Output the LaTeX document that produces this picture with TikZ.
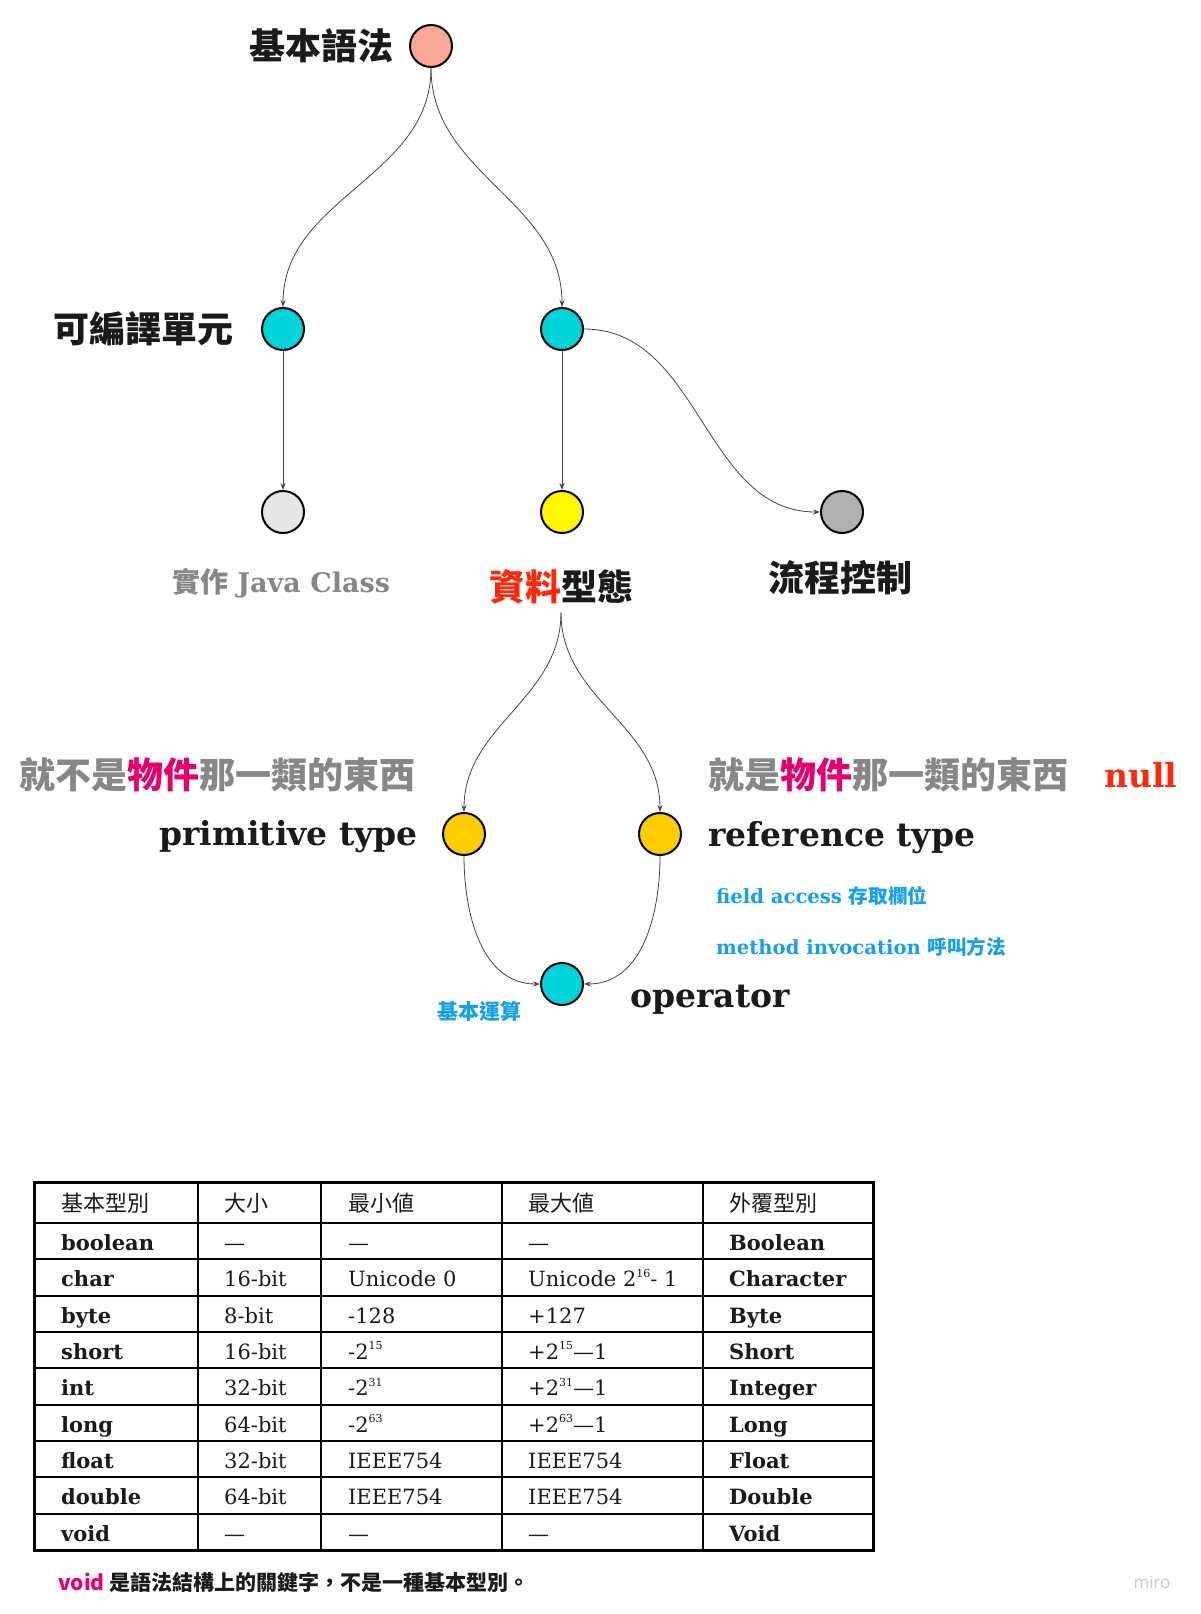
\documentclass[tikz,border=0pt]{standalone}
\usepackage{fontspec}
\setmainfont{DejaVu Serif}
\newfontfamily\cjk{Noto Sans CJK TC}
\newfontfamily\logofont{Open Sans}
\usetikzlibrary{arrows.meta}
\newcommand\fsz[1]{\fontsize{#1}{#1}\selectfont}
\newcommand\sups[1]{\raisebox{0.45em}{\fsz{11}#1}}
\definecolor{salmonball}{RGB}{250,168,150}
\definecolor{cyanball}{RGB}{0,212,216}
\definecolor{lightball}{RGB}{230,230,230}
\definecolor{yellowball}{RGB}{255,248,0}
\definecolor{grayball}{RGB}{176,176,176}
\definecolor{goldball}{RGB}{255,204,0}
\definecolor{magentatxt}{RGB}{230,0,110}
\definecolor{redtxt}{RGB}{255,40,10}
\definecolor{graytxt}{RGB}{135,135,135}
\definecolor{bluetxt}{RGB}{20,160,240}
\definecolor{inktxt}{RGB}{26,26,26}
\definecolor{linkline}{RGB}{70,70,70}
\definecolor{mirotxt}{RGB}{200,200,215}
\begin{document}
\begin{tikzpicture}[x=1pt,y=1pt,
  ball/.style={circle,draw=black,line width=2pt,minimum size=42pt,inner sep=0pt},
  link/.style={linkline,line width=0.8pt,-{Stealth[length=7pt,width=5pt]}},
  big/.style={inner sep=0pt,text=inktxt,font=\cjk\bfseries\fsz{36}},
  eng/.style={inner sep=0pt,text=inktxt,font=\bfseries\fsz{33}},
  note/.style={inner sep=0pt,text=bluetxt,font=\bfseries\fsz{19.6}},
  cell/.style={anchor=base west,inner sep=0pt,text=inktxt,font=\fsz{21}},
  cellb/.style={cell,font=\bfseries\fsz{21}},
  head/.style={cell,font=\cjk\fsz{22}}]
\fill[white] (0,0) rectangle (1200,-1614);
\useasboundingbox (0,0) rectangle (1200,-1614);

% balls
\node[ball,fill=salmonball] (syntax) at (431,-46) {};
\node[ball,fill=cyanball] (unit) at (283,-329) {};
\node[ball,fill=cyanball] (typeroot) at (562,-329) {};
\node[ball,fill=lightball] (impl) at (283,-512) {};
\node[ball,fill=yellowball] (datanode) at (562,-512) {};
\node[ball,fill=grayball] (flow) at (842,-512) {};
\node[ball,fill=goldball] (prim) at (464,-834) {};
\node[ball,fill=goldball] (ref) at (660,-834) {};
\node[ball,fill=cyanball] (op) at (562,-984) {};

% labels
\node[big,anchor=east] (syntaxlbl) at (394,-46) {基本語法};
\node[big,anchor=east] (unitlbl) at (234,-329) {可編譯單元};
\node[inner sep=0pt,text=graytxt,font=\bfseries\fsz{27}] (impllbl) at (281,-583) {{\cjk\fsz{28}實作} Java Class};
\node[big,inner ysep=8pt] (dtlabel) at (561,-587) {\textcolor{redtxt}{資料}型態};
\node[big] (flowlbl) at (840,-578) {流程控制};
\node[big,text=graytxt,anchor=east] (notobj) at (416,-775) {就不是\textcolor{magentatxt}{物件}那一類的東西};
\node[big,text=graytxt,anchor=west] (isobj) at (708,-775) {就是\textcolor{magentatxt}{物件}那一類的東西};
\node[eng,text=redtxt,anchor=west] (nulllbl) at (1104,-775) {null};
\node[eng,anchor=base east] (primlbl) at (418,-845) {primitive type};
\node[eng,anchor=base west] (reflbl) at (708,-846) {reference type};
\node[eng,anchor=base west] (oplbl) at (630,-1007) {operator};
\node[note,anchor=base west] (fieldlbl) at (716,-903) {field access {\cjk\bfseries 存取欄位}};
\node[note,anchor=base west] (methodlbl) at (716,-954) {method invocation {\cjk\bfseries 呼叫方法}};
\node[note,font=\cjk\bfseries\fsz{21}] (basiclbl) at (479,-1011) {基本運算};

% links
\draw[link] (syntax.south) to[out=-90,in=90] (unit.north);
\draw[link] (syntax.south) to[out=-90,in=90] (typeroot.north);
\draw[link] (unit) -- (impl);
\draw[link] (typeroot) -- (datanode);
\draw[link] (typeroot.east) to[out=0,in=180] (flow.west);
\draw[link] (dtlabel.south) to[out=-90,in=90] (prim.north);
\draw[link] (dtlabel.south) to[out=-90,in=90] (ref.north);
\draw[link] (prim.south) to[out=-90,in=180] (op.west);
\draw[link] (ref.south) to[out=-90,in=0] (op.east);

% table
\draw[line width=2pt] (34,-1223) -- (873,-1223);
\draw[line width=2pt] (34,-1259.3) -- (873,-1259.3);
\draw[line width=2pt] (34,-1295.7) -- (873,-1295.7);
\draw[line width=2pt] (34,-1332) -- (873,-1332);
\draw[line width=2pt] (34,-1368.3) -- (873,-1368.3);
\draw[line width=2pt] (34,-1404.7) -- (873,-1404.7);
\draw[line width=2pt] (34,-1441) -- (873,-1441);
\draw[line width=2pt] (34,-1477.3) -- (873,-1477.3);
\draw[line width=2pt] (34,-1513.7) -- (873,-1513.7);
\draw[line width=2pt] (198,-1182) -- (198,-1550);
\draw[line width=2pt] (321,-1182) -- (321,-1550);
\draw[line width=2pt] (502,-1182) -- (502,-1550);
\draw[line width=2pt] (703,-1182) -- (703,-1550);
\draw[line width=3pt] (34,-1182) rectangle (873,-1550);

\node[head] (h1) at (61,-1211) {基本型別};
\node[head] (h2) at (224,-1211) {大小};
\node[head] (h3) at (348,-1211) {最小値};
\node[head] (h4) at (528,-1211) {最大値};
\node[head] (h5) at (729,-1211) {外覆型別};

\node[cellb] (a1) at (61,-1250) {boolean};
\node[cell] (a2) at (224,-1250) {—};
\node[cell] (a3) at (348,-1250) {—};
\node[cell] (a4) at (528,-1250) {—};
\node[cellb] (a5) at (729,-1250) {Boolean};

\node[cellb] (b1) at (61,-1286.5) {char};
\node[cell] (b2) at (224,-1286.5) {16-bit};
\node[cell] (b3) at (348,-1286.5) {Unicode 0};
\node[cell] (b4) at (528,-1286.5) {Unicode 2\sups{16}- 1};
\node[cellb] (b5) at (729,-1286.5) {Character};

\node[cellb] (c1) at (61,-1323) {byte};
\node[cell] (c2) at (224,-1323) {8-bit};
\node[cell] (c3) at (348,-1323) {-128};
\node[cell] (c4) at (528,-1323) {+127};
\node[cellb] (c5) at (729,-1323) {Byte};

\node[cellb] (d1) at (61,-1359) {short};
\node[cell] (d2) at (224,-1359) {16-bit};
\node[cell] (d3) at (348,-1359) {-2\sups{15}};
\node[cell] (d4) at (528,-1359) {+2\sups{15}—1};
\node[cellb] (d5) at (729,-1359) {Short};

\node[cellb] (e1) at (61,-1395.5) {int};
\node[cell] (e2) at (224,-1395.5) {32-bit};
\node[cell] (e3) at (348,-1395.5) {-2\sups{31}};
\node[cell] (e4) at (528,-1395.5) {+2\sups{31}—1};
\node[cellb] (e5) at (729,-1395.5) {Integer};

\node[cellb] (f1) at (61,-1432) {long};
\node[cell] (f2) at (224,-1432) {64-bit};
\node[cell] (f3) at (348,-1432) {-2\sups{63}};
\node[cell] (f4) at (528,-1432) {+2\sups{63}—1};
\node[cellb] (f5) at (729,-1432) {Long};

\node[cellb] (g1) at (61,-1468) {float};
\node[cell] (g2) at (224,-1468) {32-bit};
\node[cell] (g3) at (348,-1468) {IEEE754};
\node[cell] (g4) at (528,-1468) {IEEE754};
\node[cellb] (g5) at (729,-1468) {Float};

\node[cellb] (k1) at (61,-1504.5) {double};
\node[cell] (k2) at (224,-1504.5) {64-bit};
\node[cell] (k3) at (348,-1504.5) {IEEE754};
\node[cell] (k4) at (528,-1504.5) {IEEE754};
\node[cellb] (k5) at (729,-1504.5) {Double};

\node[cellb] (m1) at (61,-1541) {void};
\node[cell] (m2) at (224,-1541) {—};
\node[cell] (m3) at (348,-1541) {—};
\node[cell] (m4) at (528,-1541) {—};
\node[cellb] (m5) at (729,-1541) {Void};

% footer
\node[anchor=base west,inner sep=0pt,font=\cjk\bfseries\fsz{21},text=inktxt] (footnote) at (58,-1590) {\textcolor{magentatxt}{void} 是語法結構上的關鍵字，不是一種基本型別。};
\node[inner sep=0pt,text=mirotxt,font=\logofont\fsz{17}] (miro) at (1152,-1582) {miro};
\end{tikzpicture}
\end{document}
